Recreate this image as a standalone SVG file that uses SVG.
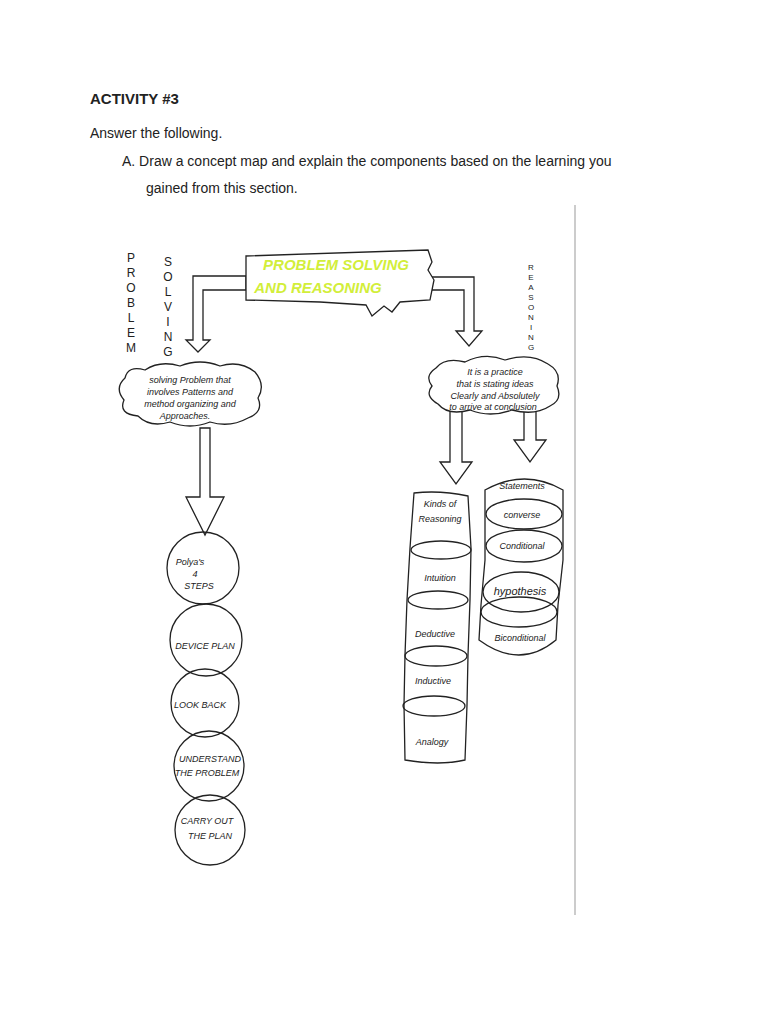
<svg xmlns="http://www.w3.org/2000/svg" width="768" height="1024" viewBox="0 0 768 1024">
<style>
.h{font-family:"Liberation Sans",Arial,sans-serif;font-size:14px;fill:#222}
.hw{font-family:"Liberation Sans",Arial,sans-serif;font-style:italic;font-size:9px;fill:#222;text-anchor:middle}
.v{font-family:"Liberation Sans",Arial,sans-serif;font-size:12px;fill:#222;text-anchor:middle}
.vs{font-family:"Liberation Sans",Arial,sans-serif;font-size:8px;fill:#222;text-anchor:middle}
.s{fill:none;stroke:#222;stroke-width:1.3}
.w{fill:#fff;stroke:#222;stroke-width:1.3}
.t{font-family:"Liberation Sans",sans-serif;font-style:italic;font-weight:bold;font-size:15px;fill:#d2ee3a;text-anchor:middle}
</style>
<rect width="768" height="1024" fill="#fff"/>
<text class="h" x="90" y="104" font-weight="bold" style="font-size:15px">ACTIVITY #3</text>
<text class="h" x="90" y="138">Answer the following.</text>
<text class="h" x="122" y="166">A. Draw a concept map and explain the components based on the learning you</text>
<text class="h" x="146" y="193">gained from this section.</text>
<line x1="575" y1="205" x2="575" y2="915" stroke="#bbb" stroke-width="1.5"/>
<g id="vertical-labels">
<text class="v" x="131" y="262">P</text><text class="v" x="131" y="277">R</text><text class="v" x="131" y="292">O</text><text class="v" x="131" y="307">B</text><text class="v" x="131" y="322">L</text><text class="v" x="131" y="337">E</text><text class="v" x="131" y="352">M</text>
<text class="v" x="168" y="266">S</text><text class="v" x="168" y="281">O</text><text class="v" x="168" y="296">L</text><text class="v" x="168" y="311">V</text><text class="v" x="168" y="326">I</text><text class="v" x="168" y="341">N</text><text class="v" x="168" y="356">G</text>
<text class="vs" x="531" y="270">R</text><text class="vs" x="531" y="280">E</text><text class="vs" x="531" y="290">A</text><text class="vs" x="531" y="300">S</text><text class="vs" x="531" y="310">O</text><text class="vs" x="531" y="320">N</text><text class="vs" x="531" y="330">I</text><text class="vs" x="531" y="340">N</text><text class="vs" x="531" y="350">G</text>
</g>
<g id="connectors">
<path class="w" d="M246,276 H193 V340 H186 L198,352 L210,340 H203 V290 H246 Z"/>
<path class="w" d="M432,277 H474 V331 H482 L469,346 L456,331 H464 V290 H432 Z"/>
<path class="w" d="M200,428 V497 H186 L205,535 L224,497 H210 V428 Z"/>
<path class="w" d="M450,410 V462 H440 L456,484 L472,462 H462 V410 Z"/>
<path class="w" d="M524,400 V440 H514 L530,462 L546,440 H536 V400 Z"/>
</g>
<g id="title">
<path class="w" d="M246,256 L428,250 L432,262 L428,270 L434,280 L430,300 L400,302 L392,312 L384,306 L372,316 L366,305 L320,302 L246,300 Z"/>
<text class="t" x="336" y="270">PROBLEM SOLVING</text>
<text class="t" x="318" y="293">AND REASONING</text>
</g>
<g id="cloud-left">
<path class="w" d="M125,378 Q128,365 145,370 Q160,360 180,366 Q200,358 220,366 Q240,360 255,372 Q266,385 258,398 Q264,412 248,418 Q230,428 210,422 Q190,430 170,422 Q150,428 138,416 Q118,414 124,400 Q114,388 125,378 Z"/>
<text class="hw" x="190" y="383">solving Problem that</text>
<text class="hw" x="190" y="395">involves Patterns and</text>
<text class="hw" x="190" y="407">method organizing and</text>
<text class="hw" x="185" y="419">Approaches.</text>
</g>
<g id="cloud-right">
<path class="w" d="M436,368 Q445,357 465,362 Q485,352 505,360 Q530,352 548,364 Q562,372 557,386 Q563,400 550,406 Q535,416 512,410 Q490,418 470,410 Q448,416 438,404 Q424,396 432,386 Q424,376 436,368 Z"/>
<text class="hw" x="495" y="375">It  is a practice</text>
<text class="hw" x="495" y="387">that is stating ideas</text>
<text class="hw" x="495" y="399">Clearly and Absolutely</text>
<text class="hw" x="493" y="410">to arrive at conclusion</text>
</g>
<g id="polya-circles" class="s">
<circle cx="203" cy="568" r="36"/><circle cx="206" cy="640" r="36"/><circle cx="205" cy="703" r="34"/><circle cx="209" cy="766" r="35"/><circle cx="210" cy="830" r="35"/>
</g>
<g id="polya-text">
<text class="hw" x="190" y="565">Polya's</text><text class="hw" x="195" y="577">4</text><text class="hw" x="199" y="589">STEPS</text>
<text class="hw" x="205" y="649">DEVICE PLAN</text>
<text class="hw" x="200" y="708">LOOK BACK</text>
<text class="hw" x="210" y="762">UNDERSTAND</text><text class="hw" x="207" y="776">THE PROBLEM</text>
<text class="hw" x="207" y="824">CARRY OUT</text><text class="hw" x="210" y="839">THE PLAN</text>
</g>
<g id="kinds-column">
<path class="s" d="M414,493 Q440,490 468,496 L471,548 L470,600 L468,655 L467,705 L465,760 Q440,766 405,760 L404,705 L405,655 L407,600 L410,548 Z"/>
<ellipse class="s" cx="441" cy="550" rx="30" ry="9"/>
<ellipse class="s" cx="438" cy="600" rx="30" ry="9"/>
<ellipse class="s" cx="436" cy="656" rx="31" ry="10"/>
<ellipse class="s" cx="434" cy="706" rx="31" ry="10"/>
<text class="hw" x="440" y="507">Kinds of</text><text class="hw" x="440" y="522">Reasoning</text>
<text class="hw" x="440" y="581">Intuition</text>
<text class="hw" x="435" y="637">Deductive</text>
<text class="hw" x="433" y="684">Inductive</text>
<text class="hw" x="432" y="745">Analogy</text>
</g>
<g id="statements-column">
<path class="s" d="M485,490 Q525,468 563,490 L563,560 L558,605 L556,640 Q520,670 479,640 L481,605 L485,560 Z"/>
<ellipse class="s" cx="524" cy="514" rx="38" ry="15"/>
<ellipse class="s" cx="524" cy="546" rx="38" ry="16"/>
<ellipse class="s" cx="521" cy="592" rx="38" ry="20"/>
<ellipse class="s" cx="519" cy="612" rx="38" ry="15"/>
<text class="hw" x="522" y="489">Statements</text>
<text class="hw" x="522" y="518">converse</text>
<text class="hw" x="522" y="549">Conditional</text>
<text class="hw" x="520" y="595" style="font-size:11px">hypothesis</text>
<text class="hw" x="520" y="641">Biconditional</text>
</g>
</svg>
